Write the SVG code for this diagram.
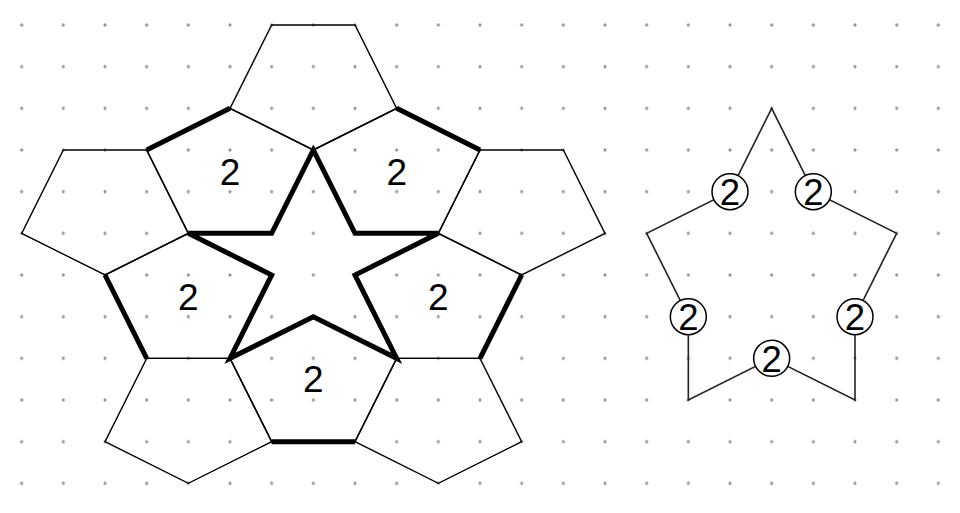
<svg xmlns="http://www.w3.org/2000/svg" width="960" height="513" viewBox="0 0 960 513">
<style>
.thin{fill:none;stroke:#000;stroke-width:1.4;stroke-linejoin:miter}
.thick{fill:none;stroke:#000;stroke-width:5;stroke-linejoin:miter;stroke-linecap:butt}
.lbl{font-family:"Liberation Sans",Arial,sans-serif;font-size:37px;fill:#000;text-anchor:middle}
.clbl{font-family:"Liberation Sans",Arial,sans-serif;font-size:36.5px;fill:#000;text-anchor:middle}
.outline{fill:none;stroke:#222;stroke-width:1.6;stroke-linejoin:miter}
.ring{fill:#fff;stroke:#000;stroke-width:1.5}
</style>
<defs>
<pattern id="dots" patternUnits="userSpaceOnUse" x="0.833" y="4.167" width="41.667" height="41.667">
<path d="M19.13 20.83h3.4M20.83 19.13v3.4" stroke="#7a7a7a" stroke-width="1.2"/>
</pattern>
</defs>
<rect width="960" height="513" fill="#fff"/>
<rect id="grid" x="0" y="0" width="955" height="500" fill="url(#dots)"/>
<g id="tiling">
<g id="p-top"><polygon class="thin" points="271.67,25 355,25 396.67,108.33 313.33,150 230,108.33"/></g>
<g id="p-upper-left"><polygon class="thin" points="230,108.33 313.33,150 271.67,233.33 188.33,233.33 146.67,150"/><text class="lbl" x="230" y="185">2</text></g>
<g id="p-upper-right"><polygon class="thin" points="313.33,150 396.67,108.33 480,150 438.33,233.33 355,233.33"/><text class="lbl" x="396.67" y="185">2</text></g>
<g id="p-left-outer"><polygon class="thin" points="63.33,150 146.67,150 188.33,233.33 105,275 21.67,233.33"/></g>
<g id="p-right-outer"><polygon class="thin" points="480,150 563.33,150 605,233.33 521.67,275 438.33,233.33"/></g>
<g id="p-left"><polygon class="thin" points="188.33,233.33 271.67,275 230,358.33 146.67,358.33 105,275"/><text class="lbl" x="188.33" y="310">2</text></g>
<g id="p-right"><polygon class="thin" points="438.33,233.33 521.67,275 480,358.33 396.67,358.33 355,275"/><text class="lbl" x="438.33" y="310">2</text></g>
<g id="p-bottom"><polygon class="thin" points="230,358.33 313.33,316.67 396.67,358.33 355,441.67 271.67,441.67"/><text class="lbl" x="313.33" y="392">2</text></g>
<g id="p-bottom-left-outer"><polygon class="thin" points="146.67,358.33 230,358.33 271.67,441.67 188.33,483.33 105,441.67"/></g>
<g id="p-bottom-right-outer"><polygon class="thin" points="396.67,358.33 480,358.33 521.67,441.67 438.33,483.33 355,441.67"/></g>
</g>
<g id="thick-edges">
<polygon class="thick" points="313.33,150 355,233.33 438.33,233.33 355,275 396.67,358.33 313.33,316.67 230,358.33 271.67,275 188.33,233.33 271.67,233.33"/>
<line class="thick" x1="146.67" y1="150" x2="230" y2="108.33"/>
<line class="thick" x1="396.67" y1="108.33" x2="480" y2="150"/>
<line class="thick" x1="105" y1="275" x2="146.67" y2="358.33"/>
<line class="thick" x1="521.67" y1="275" x2="480" y2="358.33"/>
<line class="thick" x1="271.67" y1="441.67" x2="355" y2="441.67"/>
</g>
<g id="star-outline">
<polygon class="outline" points="771.67,108.33 730,191.67 646.67,233.33 688.33,316.67 688.33,400 771.67,358.33 855,400 855,316.67 896.67,233.33 813.33,191.67"/>
</g>
<g id="c1"><circle class="ring" cx="730" cy="191.67" r="18"/><text class="clbl" x="730" y="204.8">2</text></g>
<g id="c2"><circle class="ring" cx="813.33" cy="191.67" r="18"/><text class="clbl" x="813.33" y="204.8">2</text></g>
<g id="c3"><circle class="ring" cx="688.33" cy="316.67" r="18"/><text class="clbl" x="688.33" y="329.8">2</text></g>
<g id="c4"><circle class="ring" cx="855" cy="316.67" r="18"/><text class="clbl" x="855" y="329.8">2</text></g>
<g id="c5"><circle class="ring" cx="771.67" cy="358.33" r="18"/><text class="clbl" x="771.67" y="371.5">2</text></g>
</svg>
